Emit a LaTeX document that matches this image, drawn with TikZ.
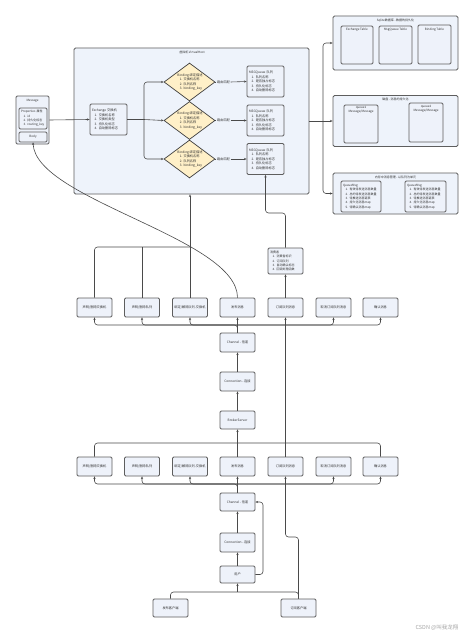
\documentclass[tikz,border=0pt]{standalone}
\usepackage{fontspec}
\setmainfont{Noto Sans CJK SC}
\usetikzlibrary{arrows.meta,shapes.geometric}
\definecolor{bd}{HTML}{5E5E5E}
\definecolor{bf}{HTML}{EEF2FA}
\definecolor{vhf}{HTML}{EEF3FB}
\definecolor{diaf}{HTML}{FFF0C8}
\definecolor{diabd}{HTML}{404040}
\definecolor{lc}{HTML}{4A4A4A}
\definecolor{txt}{HTML}{303030}
\newcommand\myind{\hspace*{2.5pt}}
\begin{document}
\begin{tikzpicture}[x=1pt,y=-1pt,
 base/.style={font=\fontsize{3.2}{4.5}\selectfont, text=txt, inner sep=0.5pt},
 box/.style={draw=bd, fill=bf, line width=0.8pt, rounded corners=1.2pt, font=\fontsize{3.2}{4.5}\selectfont, text=txt},
 opbox/.style={box, minimum width=35, minimum height=19, inner sep=1pt, align=center},
 lbox/.style={box, inner sep=2pt, align=left},
 bigbox/.style={draw=bd, fill=vhf, line width=0.8pt, rounded corners=1.5pt},
 dia/.style={diamond, draw=diabd, fill=diaf, line width=0.7pt, minimum width=51, minimum height=38, inner sep=0},
 ln/.style={draw=lc, line width=0.6pt},
 arr/.style={ln, -{Stealth[length=2.6pt,width=2.2pt]}},
 rc/.style={rounded corners=3pt},
 ttl/.style={font=\fontsize{3}{4}\selectfont, text=txt, inner sep=0.5pt}
]
\useasboundingbox (0,0) rectangle (474,634);
\fill[white] (0,0) rectangle (474,634);

% ---------- Virtual host ----------
\node[bigbox, minimum width=235, minimum height=146] (vh) at (191.5,121) {};
\node[ttl] (vht) at (192,52.5) {虚拟机 VirtualHost};

% ---------- Message ----------
\node[box, minimum width=33, minimum height=48] (msg) at (32.5,120) {};
\node[ttl] (msgt) at (32.5,100.5) {Message};
\node[lbox, text width=24, minimum height=21, font=\fontsize{3}{4.3}\selectfont] (prop) at (33,118.5) {Properties 属性\\\myind 1. id\\\myind 2. 持久化标志\\\myind 3. routing\_key};
\node[box, minimum width=28, minimum height=10, inner sep=0.5pt, font=\fontsize{3}{4}\selectfont] (body) at (33,137) {Body};

% ---------- Exchange ----------
\node[lbox, text width=33, minimum height=31] (ex) at (108.5,119.5) {Exchange 交换机\\\myind 1. 交换机名称\\\myind 2. 交换机类型\\\myind 3. 持久化标志\\\myind 4. 自动删除标志};

% ---------- Bindings ----------
\node[dia] (d1) at (189.5,82) {};
\node[base, align=left] (d1t) at (190,82) {Binding 绑定描述\\\myind 1. 交换机名称\\\myind 2. 队列名称\\\myind 3. binding\_key};
\node[dia] (d2) at (189.5,120.5) {};
\node[base, align=left] (d2t) at (190,120.5) {Binding 绑定描述\\\myind 1. 交换机名称\\\myind 2. 队列名称\\\myind 3. binding\_key};
\node[dia] (d3) at (189.5,159) {};
\node[base, align=left] (d3t) at (190,159) {Binding 绑定描述\\\myind 1. 交换机名称\\\myind 2. 队列名称\\\myind 3. binding\_key};

\node[base] (rl1) at (223.5,82) {路由匹配};
\node[base] (rl2) at (223.5,120.5) {路由匹配};
\node[base] (rl3) at (223.5,159) {路由匹配};

% ---------- Queues ----------
\node[lbox, text width=33, minimum height=31] (q1) at (265.5,81.5) {MSGQueue 队列\\\myind 1. 队列名称\\\myind 2. 是否独占标志\\\myind 3. 持久化标志\\\myind 4. 自动删除标志};
\node[lbox, text width=33, minimum height=31] (q2) at (265.5,120.5) {MSGQueue 队列\\\myind 1. 队列名称\\\myind 2. 是否独占标志\\\myind 3. 持久化标志\\\myind 4. 自动删除标志};
\node[lbox, text width=33, minimum height=31] (q3) at (265.5,159) {MSGQueue 队列\\\myind 1. 队列名称\\\myind 2. 是否独占标志\\\myind 3. 持久化标志\\\myind 4. 自动删除标志};

% ---------- Right side ----------
\node[bigbox, minimum width=125, minimum height=54] (sq) at (395.5,43) {};
\node[ttl] (sqt) at (395.5,20.5) {Sqlite数据库 - 数据的持久化};
\node[box, minimum width=32, minimum height=38] (et) at (357,45) {};
\node[ttl] (ett) at (357,29.5) {Exchange Table};
\node[box, minimum width=33, minimum height=38] (mt) at (395.5,45) {};
\node[ttl] (mtt) at (395.5,29.5) {MsgQueue Table};
\node[box, minimum width=33, minimum height=39] (bt) at (434.5,44.5) {};
\node[ttl] (btt) at (434.5,29.5) {Binding Table};

\node[bigbox, minimum width=125, minimum height=51] (dk) at (395.5,121) {};
\node[ttl] (dkt) at (395.5,99.5) {磁盘 - 消息的持久化};
\node[box, minimum width=34, minimum height=38] (qa) at (361,124) {};
\node[ttl, align=center] (qat) at (361,110) {queue1\\Message/Message};
\node[box, minimum width=34, minimum height=39] (qb) at (426,122.5) {};
\node[ttl, align=center] (qbt) at (426,108.5) {queue2\\Message/Message};

\node[bigbox, minimum width=125, minimum height=41] (mem) at (395.5,193.5) {};
\node[ttl] (memt) at (395.5,177) {内存中消息管理 - 以队列为单元};
\node[lbox, text width=36, minimum height=31, font=\fontsize{3}{4.4}\selectfont] (qm1) at (361,196.5) {QueueMsg\\\myind 1. 有效待发送消息数量\\\myind 2. 总的待发送消息数量\\\myind 3. 待推送消息链表\\\myind 4. 持久化消息map\\\myind 5. 待确认消息map};
\node[lbox, text width=37, minimum height=31, font=\fontsize{3}{4.4}\selectfont] (qm2) at (425.5,196.5) {QueueMsg\\\myind 1. 有效待发送消息数量\\\myind 2. 总的待发送消息数量\\\myind 3. 待推送消息链表\\\myind 4. 持久化消息map\\\myind 5. 待确认消息map};

% ---------- Consumer ----------
\node[lbox, text width=31, minimum height=26, font=\fontsize{3}{4.4}\selectfont] (cons) at (285.5,261) {消费者\\\myind 1. 消费者标识\\\myind 2. 订阅队列\\\myind 3. 自动确认标志\\\myind 4. 回调处理函数};

% ---------- Row 1 (server) ----------
\node[opbox] (r1a) at (94.5,307.5) {声明/删除交换机};
\node[opbox] (r1b) at (142,307.5) {声明/删除队列};
\node[opbox] (r1c) at (190,307.5) {绑定/解除队列-交换机};
\node[opbox] (r1d) at (237.5,307.5) {发布消息};
\node[opbox] (r1e) at (285.5,307.5) {订阅队列消息};
\node[opbox] (r1f) at (333.5,307.5) {取消订阅队列消息};
\node[opbox] (r1g) at (380.5,307.5) {确认消息};

\node[opbox] (ch1) at (237.5,342.5) {Channel - 信道};
\node[opbox] (cn1) at (237.5,381.5) {Connection - 连接};
\node[opbox, minimum height=18] (bs) at (237.5,420) {BrokerServer};

% ---------- Row 2 (client) ----------
\node[opbox] (r2a) at (94.5,466.5) {声明/删除交换机};
\node[opbox] (r2b) at (142,466.5) {声明/删除队列};
\node[opbox] (r2c) at (190,466.5) {绑定/解除队列-交换机};
\node[opbox] (r2d) at (237.5,466.5) {发布消息};
\node[opbox] (r2e) at (285.5,466.5) {订阅队列消息};
\node[opbox] (r2f) at (333.5,466.5) {取消订阅队列消息};
\node[opbox] (r2g) at (380.5,466.5) {确认消息};

\node[opbox, minimum height=18] (ch2) at (237.5,502) {Channel - 信道};
\node[opbox] (cn2) at (237.5,542.5) {Connection - 连接};
\node[opbox, minimum height=17] (user) at (237.5,574.5) {用户};
\node[opbox, minimum height=18] (pc) at (170.5,608) {发布客户端};
\node[opbox, minimum height=18] (sc) at (298.5,608) {订阅客户端};

\node[font=\fontsize{5.5}{6}\selectfont, text=black!35, inner sep=0] (wm) at (437,627.5) {CSDN @叫我龙翔};

% ---------- Connectors: top ----------
\draw[arr] (msg.east) -- (ex.west);
\coordinate (br) at (144,119.5);
\draw[ln] (ex.east) -- (br);
\draw[arr, rc] (br) |- (d1.west);
\draw[arr] (br) -- (d2.west);
\draw[arr, rc] (br) |- (d3.west);
\draw[ln] (d1.east) -- (rl1.west);
\draw[ln] (d2.east) -- (rl2.west);
\draw[ln] (d3.east) -- (rl3.west);
\draw[arr] (rl1.east) -- (q1.west);
\draw[arr] (rl2.east) -- (q2.west);
\draw[arr] (rl3.east) -- (q3.west);

\coordinate (vr) at (323,121);
\draw[ln] (vh.east) -- (vr);
\draw[arr, rc] (vr) |- (sq.west);
\draw[arr] (vr) -- (dk.west);
\draw[arr, rc] (vr) |- (mem.west);

% ---------- Row 1 connectors ----------
\coordinate (t1) at (190,247);
\draw[ln, rc] (r1a.north) |- (t1);
\draw[ln] (r1b.north) -- (r1b.north |- t1);
\draw[arr] (r1c.north) -- (r1c.north |- vh.south);

\draw[arr] (r1d.north) .. controls (237.5,238) and (36,200) .. (body.south);

\draw[arr] (r1e.north) -- (cons.south);
\coordinate (cq) at (285.5,213);
\draw[arr, rc] (cons.north) -- (cq) -| (q3.south);

\coordinate (b1) at (237.5,325);
\draw[arr, rc] (ch1.north) -- (b1) -| (r1a.south);
\draw[arr, rc] (b1) -| (r1b.south);
\draw[arr, rc] (b1) -| (r1c.south);
\draw[arr, rc] (b1) -| (r1f.south);
\draw[arr, rc] (b1) -| (r1g.south);
\draw[arr] (ch1.north) -- (r1d.south);

\draw[arr] (cn1.north) -- (ch1.south);
\draw[arr] (bs.north) -- (cn1.south);

% ---------- Row 2 connectors ----------
\coordinate (b2) at (237.5,443);
\draw[ln, rc] (r2a.north) |- (b2);
\draw[ln, rc] (r2g.north) |- (b2);
\draw[arr] (r2d.north) -- (bs.south);

\draw[arr] (r2e.north) -- (r1e.south);

\coordinate (b4) at (237.5,484);
\draw[arr, rc] (ch2.north) -- (b4) -| (r2a.south);
\draw[arr, rc] (b4) -| (r2b.south);
\draw[arr, rc] (b4) -| (r2c.south);
\draw[arr, rc] (b4) -| (r2f.south);
\draw[arr, rc] (b4) -| (r2g.south);
\draw[arr] (ch2.north) -- (r2d.south);

\draw[arr] (cn2.north) -- (ch2.south);
\draw[arr] (user.north) -- (cn2.south);
\coordinate (u1) at (263,574.5);
\coordinate (u2) at (263,502);
\draw[arr, rc] (user.east) -- (u1) -- (u2) -- (ch2.east);

% ---------- Clients ----------
\coordinate (b3) at (237.5,592);
\draw[ln, rc] (pc.north) |- (b3);
\draw[ln, rc] (sc.north) |- (b3);
\draw[arr] (b3) -- (user.south);
\coordinate (k1) at (298.5,537);
\coordinate (k2) at (285.5,537);
\draw[arr, rc] (sc.north) -- (k1) -- (k2) -- (r2e.south);
\end{tikzpicture}
\end{document}
